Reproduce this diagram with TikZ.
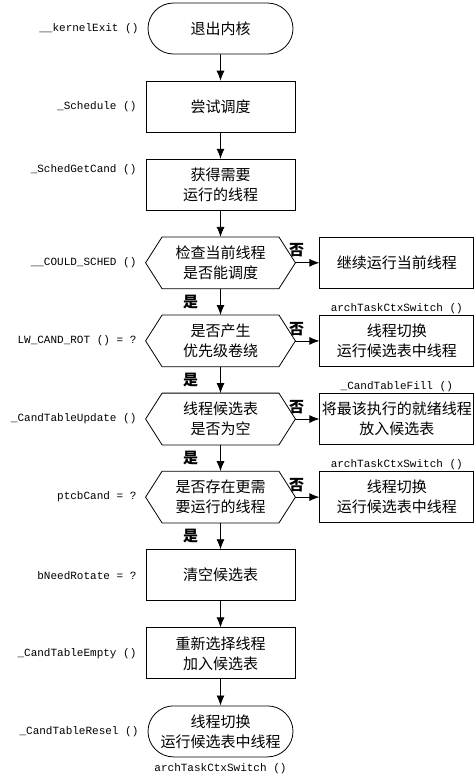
\documentclass[tikz,border=0pt]{standalone}
\usepackage{fontspec}
\setmonofont{Liberation Mono}
\newfontfamily\cjk{Noto Sans CJK SC}
\usetikzlibrary{shapes,arrows.meta,positioning}

\begin{document}
\begin{tikzpicture}[node distance=26.3pt, x=1pt, y=1pt]
        % Define block styles
        \tikzstyle{block} = [rectangle, draw, line width=0.8pt, minimum width=149pt, minimum height=51pt, inner sep=2pt, align=center, font=\cjk\fontsize{15pt}{20pt}\selectfont]
        \tikzstyle{term} = [block, rounded rectangle]
        \tikzstyle{decision} = [block, draw=none]
        \tikzstyle{side} = [block, minimum width=154pt]
        \tikzstyle{func} = [font=\ttfamily\fontsize{11pt}{13pt}\selectfont, inner sep=1pt]
        \tikzstyle{answer} = [font=\cjk\bfseries\fontsize{15pt}{15pt}\selectfont, inner sep=0pt]
        \tikzstyle{line} = [draw, line width=0.8pt, -{Latex[length=10pt,width=8pt]}]

        \useasboundingbox (0,0) rectangle (474,-777);

        % Nodes
        \node [term] (exit) at (220.5,-28.5) {退出内核};
        \node [block, below=of exit] (sched) {尝试调度};
        \node [block, below=of sched] (get) {获得需要\\运行的线程};
        \node [decision, below=of get] (could) {检查当前线程\\是否能调度};
        \node [decision, below=of could] (rot) {是否产生\\优先级卷绕};
        \node [decision, below=of rot] (upd) {线程候选表\\是否为空};
        \node [decision, below=of upd] (cand) {是否存在更需\\要运行的线程};
        \node [block, below=of cand] (clear) {清空候选表};
        \node [block, below=of clear] (empty) {重新选择线程\\加入候选表};
        \node [term, below=of empty] (resel) {线程切换\\运行候选表中线程};

        \node [side, right=24pt of could] (keep) {继续运行当前线程};
        \node [side, right=24pt of rot] (switch_rot) {线程切换\\运行候选表中线程};
        \node [side, right=24pt of upd] (fill) {将最该执行的就绪线程\\放入候选表};
        \node [side, right=24pt of cand] (switch_cand) {线程切换\\运行候选表中线程};

        % Hexagons
        \foreach \n in {could,rot,upd,cand}
            \draw [line width=0.8pt] (\n.west) -- ([xshift=16.5pt]\n.north west) -- ([xshift=-16.5pt]\n.north east) -- (\n.east) -- ([xshift=-16.5pt]\n.south east) -- ([xshift=16.5pt]\n.south west) -- cycle;

        % Function names
        \node [func, left=8pt of exit] {\_\_kernelExit ()};
        \node [func, left=8pt of sched] {\_Schedule ()};
        \node [func, anchor=east] at ([xshift=-8pt,yshift=15.5pt]get.west) {\_SchedGetCand ()};
        \node [func, left=8pt of could] {\_\_COULD\_SCHED ()};
        \node [func, left=8pt of rot] {LW\_CAND\_ROT () = ?};
        \node [func, left=8pt of upd] {\_CandTableUpdate ()};
        \node [func, left=8pt of cand] {ptcbCand = ?};
        \node [func, left=8pt of clear] {bNeedRotate = ?};
        \node [func, left=8pt of empty] {\_CandTableEmpty ()};
        \node [func, left=8pt of resel] {\_CandTableResel ()};
        \node [func, above=0pt of switch_rot] {archTaskCtxSwitch ()};
        \node [func, above=0pt of fill] {\_CandTableFill ()};
        \node [func, above=0pt of switch_cand] {archTaskCtxSwitch ()};
        \node [func, below=5pt of resel] {archTaskCtxSwitch ()};

        % Arrows
        \path [line] (exit) -- (sched);
        \path [line] (sched) -- (get);
        \path [line] (get) -- (could);
        \path [line] (could) -- node [answer, left=22pt] {是} (rot);
        \path [line] (rot) -- node [answer, left=22pt] {是} (upd);
        \path [line] (upd) -- node [answer, left=22pt] {是} (cand);
        \path [line] (cand) -- node [answer, left=22pt] {是} (clear);
        \path [line] (clear) -- (empty);
        \path [line] (empty) -- (resel);
        \path [line] (could) -- node [answer, pos=0.05, above=5pt] {否} (keep);
        \path [line] (rot) -- node [answer, pos=0.05, above=5pt] {否} (switch_rot);
        \path [line] (upd) -- node [answer, pos=0.05, above=5pt] {否} (fill);
        \path [line] (cand) -- node [answer, pos=0.05, above=5pt] {否} (switch_cand);
    \end{tikzpicture}
\end{document}
